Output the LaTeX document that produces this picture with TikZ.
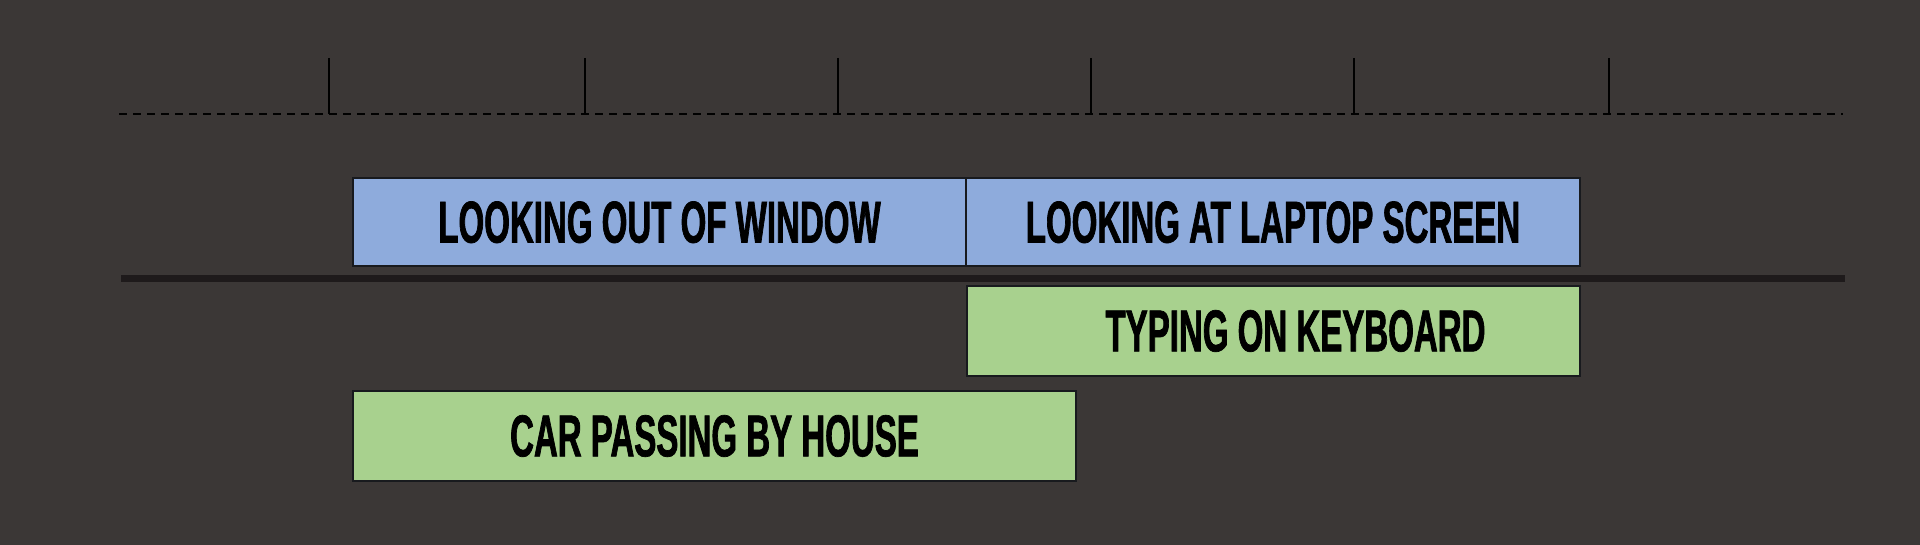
\documentclass[tikz,border=0pt]{standalone}
\usepackage{fontspec}
\setmainfont[FakeStretch=0.56, BoldFeatures={FakeBold=1.2}]{Liberation Sans}
\definecolor{bgcol}{HTML}{3B3736}
\definecolor{boxblue}{HTML}{8EABDC}
\definecolor{boxgreen}{HTML}{A8D18E}
\definecolor{boxline}{HTML}{181A1E}
\definecolor{axisline}{HTML}{1E1A1B}
\tikzset{
  evbox/.style={draw=boxline, line width=2pt, inner sep=0pt, text=black,
    font=\bfseries\fontsize{59}{62}\selectfont},
  bluebox/.style={evbox, fill=boxblue},
  greenbox/.style={evbox, fill=boxgreen},
  tickline/.style={draw=black, line width=2pt},
  scaleline/.style={draw=black, line width=2pt, dash pattern=on 8pt off 6pt},
  mainline/.style={draw=axisline, line width=6.5pt}
}
\begin{document}
\begin{tikzpicture}[x=1pt,y=-1pt]
\fill[bgcol] (0,0) rectangle (1920,545);
\useasboundingbox (0,0) rectangle (1920,545);
% scale
\coordinate (sL) at (119,114);
\coordinate (sR) at (1843,114);
\draw[scaleline] (sL) -- (sR);
\foreach \x [count=\i] in {329,585,838,1091,1354,1609}{
  \coordinate (t\i top) at (\x,58);
  \coordinate (t\i bot) at (\x,114);
  \draw[tickline] (t\i top) -- (t\i bot);
}
% main line
\coordinate (mL) at (121,278.5);
\coordinate (mR) at (1845,278.5);
\draw[mainline] (mL) -- (mR);
% boxes
\node[bluebox, minimum width=613pt, minimum height=88.5pt] (win) at (659.5,222.25) {LOOKING OUT OF WINDOW};
\node[bluebox, minimum width=614pt, minimum height=88.5pt] (lap) at (1273,222.25) {LOOKING AT LAPTOP SCREEN};
\node[greenbox, minimum width=613pt, minimum height=90pt] (key) at (1273.5,331) {\hspace*{44pt}TYPING ON KEYBOARD};
\node[greenbox, minimum width=723pt, minimum height=90pt] (car) at (714.5,436) {CAR PASSING BY HOUSE};
\end{tikzpicture}
\end{document}
